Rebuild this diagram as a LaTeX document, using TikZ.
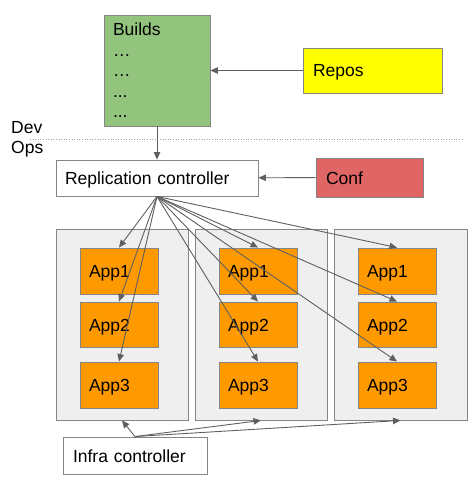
\documentclass[tikz,border=0pt]{standalone}
\usepackage{fontspec}
\setmainfont{Liberation Sans}
\usetikzlibrary{arrows.meta}
\definecolor{bgreen}{HTML}{93C47D}
\definecolor{byellow}{HTML}{FFFF00}
\definecolor{bred}{HTML}{E06666}
\definecolor{borange}{HTML}{FF9900}
\definecolor{bpanel}{HTML}{EFEFEF}
\definecolor{bborder}{HTML}{858585}
\definecolor{barrow}{HTML}{5F5F5F}
\begin{document}
\begin{tikzpicture}[x=1pt,y=-1pt,
  every node/.style={font=\fontsize{17.5}{20.5}\selectfont},
  boxs/.style={draw=bborder, line width=0.9pt, inner ysep=0pt, align=left},
  oneline/.style={boxs, text height=15.5pt, text depth=2.5pt},
  panel/.style={draw=bborder, fill=bpanel, line width=0.9pt, minimum width=132pt, minimum height=191pt, inner sep=0pt},
  appbox/.style={oneline, fill=borange, minimum width=78pt, minimum height=46pt, inner xsep=9pt, text width=60pt},
  conn/.style={draw=barrow, line width=0.9pt, -{Triangle[length=7.5pt,width=6.5pt]}},
  plain/.style={inner sep=0pt, anchor=west}]
\useasboundingbox (0,0) rectangle (474,481);
% Dev / Ops separator
\coordinate (dl) at (30,139);
\coordinate (dr) at (463,139);
\draw[barrow!60, line width=0.6pt, dotted] (dl) -- (dr);
\node[plain] (dev) at (11,128) {Dev};
\node[plain] (ops) at (11,149) {Ops};
% top boxes
\node[boxs, fill=bgreen, minimum width=106pt, minimum height=111pt, inner xsep=9pt, text width=88pt] (builds) at (157,70.5)
  {Builds\\\ldots\\\ldots\\...\\...};
\node[oneline, fill=byellow, minimum width=139pt, minimum height=45pt, inner xsep=10pt, text width=119pt] (repos) at (372.5,70.5) {Repos};
\node[oneline, fill=white, minimum width=202pt, minimum height=36pt, inner xsep=9pt, text width=184pt] (repl) at (157,178) {Replication controller};
\node[oneline, fill=bred, minimum width=107pt, minimum height=39pt, inner xsep=10pt, text width=87pt] (conf) at (369.5,177.5) {Conf};
% panels
\node[panel] (col1) at (122,324.5) {};
\node[panel] (col2) at (261,324.5) {};
\node[panel, minimum width=133pt] (col3) at (400.5,324.5) {};
% apps
\foreach \c/\x in {1/119,2/258,3/397}{
  \node[appbox] (a\c1) at (\x,271) {App1};
  \node[appbox, minimum height=45pt] (a\c2) at (\x,324.5) {App2};
  \node[appbox] (a\c3) at (\x,385) {App3};
}
\node[oneline, fill=white, minimum width=144pt, minimum height=37pt, inner xsep=10pt, text width=124pt] (infra) at (135,455.5) {Infra controller};
% connectors
\draw[conn] (repos) -- (builds);
\draw[conn] (builds) -- (repl);
\draw[conn] (conf) -- (repl);
\foreach \c in {1,2,3}{
  \foreach \r in {1,2,3}{
    \draw[conn] (repl.south) -- (a\c\r.north);
  }
}
\foreach \c in {1,2,3}{
  \draw[conn] (infra.north) -- (col\c.south);
}
\end{tikzpicture}
\end{document}
